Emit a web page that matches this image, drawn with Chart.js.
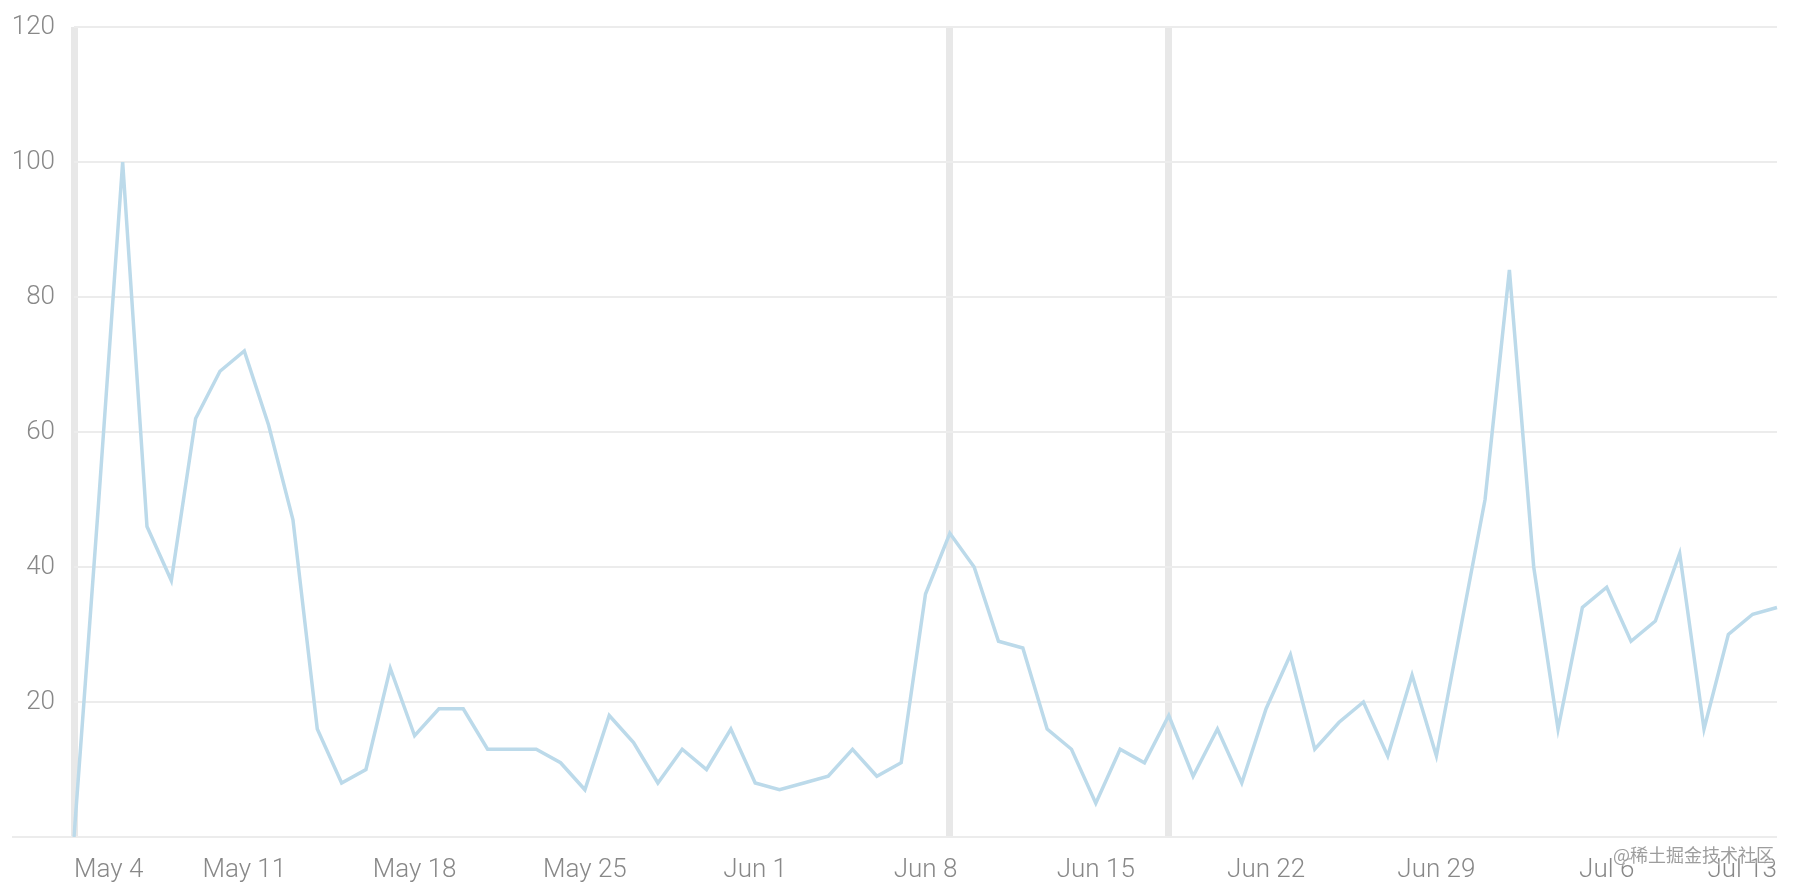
<!DOCTYPE html>
<html>
<head>
<meta charset="utf-8">
<script src="https://cdn.jsdelivr.net/npm/chart.js@4.4.1/dist/chart.umd.min.js"></script>
<style>
  html, body { margin: 0; padding: 0; background: #fff; }
  #wrap { position: relative; width: 1796px; height: 890px; }
  #mark {
    position: absolute; left: 1613px; top: 841px;
    font: 18px "Noto Sans CJK SC", sans-serif;
    color: rgba(140,140,140,0.85);
    text-shadow: 0 0 2px #fff, 0 0 2px #fff;
    white-space: nowrap;
  }
</style>
</head>
<body>
<div id="wrap">
  <canvas id="trendChart"></canvas>
  <div id="mark">@稀土掘金技术社区</div>
</div>
<script>
/* ===== data ===== */
const startDay = new Date(2020, 4, 4);   // May 4
const dayCount = 71;                      // May 4 .. Jul 13
const MONTHS = ['Jan', 'Feb', 'Mar', 'Apr', 'May', 'Jun', 'Jul', 'Aug', 'Sep', 'Oct', 'Nov', 'Dec'];

const days = [];
for (let i = 0; i < dayCount; i++) {
    const d = new Date(startDay.getFullYear(), startDay.getMonth(), startDay.getDate() + i);
    days.push(MONTHS[d.getMonth()] + ' ' + d.getDate());
}

const counts = [
    0, 49, 100, 46, 38, 62, 69, 72, 61, 47,
    16, 8, 10, 25, 15, 19, 19, 13, 13, 13,
    11, 7, 18, 14, 8, 13, 10, 16, 8, 7,
    8, 9, 13, 9, 11, 36, 45, 40, 29, 28,
    16, 13, 5, 13, 11, 18, 9, 16, 8, 19,
    27, 13, 17, 20, 12, 24, 12, 31, 50, 84,
    40, 16, 34, 37, 29, 32, 42, 16, 30, 33,
    34
];

const markerDays = ['May 4', 'Jun 9', 'Jun 18'];   // grey vertical bands
const yTicks = [0, 20, 40, 60, 80, 100, 120];

/* ===== style ===== */
const C = {
    line: '#bcdaea',
    grid: '#ececec',
    band: '#e8e8e8',
    text: '#888888'
};
const FONT = { family: "'Roboto', 'Liberation Sans', sans-serif", size: 26, weight: '300' };

Chart.defaults.color = C.text;
Chart.defaults.font.family = FONT.family;

new Chart(document.getElementById('trendChart'), {
    type: 'line',
    data: {
        labels: days,
        datasets: [{
            data: counts,
            borderColor: C.line,
            borderWidth: 3.5,
            pointRadius: 0,
            tension: 0,
            fill: false
        }]
    },
    options: {
        responsive: true, maintainAspectRatio: false,
        animation: false,
        layout: { padding: { top: 27, right: 19, left: 0, bottom: 0 } },
        plugins: { legend: { display: false }, tooltip: { enabled: false } },
        scales: {
            x: {
                offset: false,
                border: { display: false },
                grid: {
                    drawTicks: false,
                    color: ctx => markerDays.includes(days[ctx.index]) ? C.band : 'transparent',
                    lineWidth: ctx => markerDays.includes(days[ctx.index]) ? 7 : 0
                },
                ticks: {
                    autoSkip: false, maxRotation: 0, align: 'inner', padding: 18,
                    font: FONT, color: C.text,
                    callback: (v, i) => (i % 7 === 0 ? days[i] : '')
                },
                afterFit: s => { s.height = 53; }
            },
            y: {
                min: yTicks[0], max: yTicks[yTicks.length - 1],
                border: { display: false },
                afterBuildTicks: s => { s.ticks = yTicks.map(v => ({ value: v })); },
                grid: {
                    color: C.grid, lineWidth: 2,
                    tickLength: 62,
                    tickColor: ctx => (ctx.tick && ctx.tick.value === 0 ? C.grid : 'transparent'),
                    tickWidth: 2
                },
                ticks: {
                    padding: -43, font: FONT, color: C.text,
                    callback: v => (v === 0 ? '' : v)
                },
                afterFit: s => { s.width = 74; }
            }
        }
    }
});
</script>
</body>
</html>
